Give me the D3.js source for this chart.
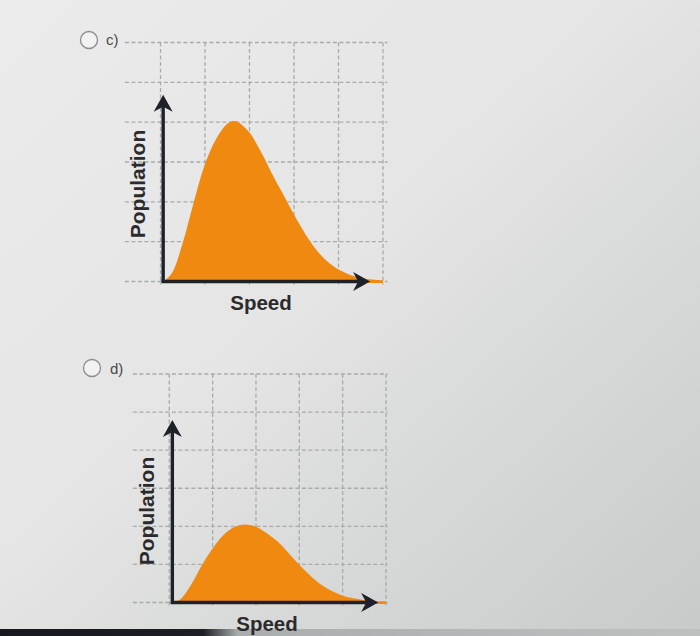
<!DOCTYPE html>
<html lang="en">
<head>
<meta charset="utf-8">
<title>Speed distributions</title>
<script src="https://d3js.org/d3.v7.min.js"></script>
<style>
  body { margin: 0; background: #e4e5e4; }
  .grid { stroke: #a9abab; stroke-width: 1.3px; stroke-dasharray: 4 2.5; fill: none; }
  .axis-line { stroke: #1f2129; stroke-width: 3.4px; fill: none; }
  .arrow { fill: #1f2129; }
  .curve { fill: #ef890f; stroke: none; }
  .label { font-family: "Liberation Sans", Arial, sans-serif; font-weight: bold; fill: #2b2b2d; }
  .option { font-family: "Liberation Sans", Arial, sans-serif; fill: #4a4a4a; font-size: 15px; }
</style>
</head>
<body>
<svg width="700" height="636"></svg>
<script>
// option labels
var options = ["c)", "d)"];
var xTitle = "Speed";
var yTitle = "Population";

// grid positions, in grid units
var gridX = [0, 1, 2, 3, 4, 5];
var gridY = [0, 1, 2, 3, 4, 5, 6];

// option c) curve (grid units)
var speedC      = [0.06, 0.25, 0.5, 0.75, 1, 1.25, 1.5, 1.64, 1.75, 2, 2.25, 2.5, 2.75, 3, 3.25, 3.5, 3.75, 4, 4.25, 4.5, 4.75, 5];
var populationC = [0, 0.2, 0.97, 2.0, 2.95, 3.58, 3.96, 4.03, 4.0, 3.74, 3.27, 2.72, 2.2, 1.68, 1.2, 0.8, 0.5, 0.3, 0.17, 0.09, 0.05, 0.03];

// option d) curve
var speedD      = [0.07, 0.25, 0.5, 0.75, 1, 1.25, 1.5, 1.74, 2, 2.25, 2.5, 2.75, 3, 3.25, 3.5, 3.75, 4, 4.25, 4.5, 4.75, 5];
var populationD = [0, 0.08, 0.46, 0.98, 1.42, 1.77, 1.98, 2.05, 1.99, 1.82, 1.6, 1.3, 0.99, 0.71, 0.47, 0.3, 0.18, 0.11, 0.06, 0.03, 0.03];

var svg = d3.select("svg");

// photo-like background
var defs = svg.append("defs");
var bg = defs.append("linearGradient").attr("id", "bg")
    .attr("x1", "0%").attr("y1", "0%").attr("x2", "100%").attr("y2", "100%");
bg.append("stop").attr("offset", "0%").attr("stop-color", "#ebebeb");
bg.append("stop").attr("offset", "45%").attr("stop-color", "#e4e5e4");
bg.append("stop").attr("offset", "100%").attr("stop-color", "#c6cac8");
svg.append("rect").attr("width", 700).attr("height", 636).attr("fill", "url(#bg)");

var band = defs.append("linearGradient").attr("id", "band");
band.append("stop").attr("offset", "0%").attr("stop-color", "#16181d");
band.append("stop").attr("offset", "29%").attr("stop-color", "#1c1e24");
band.append("stop").attr("offset", "34%").attr("stop-color", "#a9adad");
band.append("stop").attr("offset", "100%").attr("stop-color", "#bcc0bf");

// screen bezel edge at the bottom of the photo
svg.append("rect").attr("x", 0).attr("y", 629).attr("width", 700).attr("height", 7)
    .attr("fill", "url(#band)");

var panels = [
  { name: options[0], speed: speedC, pop: populationC,
    x0: 160.5, x1: 383, y0: 281.5, y1: 42.5, axisAt: 0.06, yTip: 4.69, xTip: 4.71,
    gridLeft: -0.8, gridRight: 5.1,
    radio: [89, 40], optX: 106, optY: 45, popX: 145, popY: 184, spX: 261, spY: 310 },
  { name: options[1], speed: speedD, pop: populationD,
    x0: 169.3, x1: 386, y0: 602.5, y1: 374, axisAt: 0.07, yTip: 4.79, xTip: 4.82,
    gridLeft: -0.84, gridRight: 5.04,
    radio: [92, 368], optX: 110, optY: 374, popX: 154, popY: 511, spX: 267, spY: 631 }
];

panels.forEach(function(p) {
  var x = d3.scaleLinear().domain([0, 5]).range([p.x0, p.x1]);
  var y = d3.scaleLinear().domain([0, 6]).range([p.y0, p.y1]);
  var g = svg.append("g");

  // option radio + label
  g.append("circle").attr("cx", p.radio[0]).attr("cy", p.radio[1]).attr("r", 8.5)
      .attr("fill", "#f2f2f2").attr("stroke", "#8c8c8c").attr("stroke-width", 1.3);
  g.append("text").attr("class", "option").attr("x", p.optX).attr("y", p.optY).text(p.name);

  // dashed grid
  g.selectAll(".hgrid").data(gridY).join("line")
      .attr("class", "grid hgrid")
      .attr("x1", x(p.gridLeft)).attr("x2", x(p.gridRight))
      .attr("y1", d => y(d)).attr("y2", d => y(d));
  g.selectAll(".vgrid").data(gridX).join("line")
      .attr("class", "grid vgrid")
      .attr("x1", d => x(d)).attr("x2", d => x(d))
      .attr("y1", y(6)).attr("y2", y(0) + 3);

  // distribution
  var pts = p.speed.map((s, i) => [s, p.pop[i]]);
  var area = d3.area()
      .x(d => x(d[0]))
      .y0(y(0) + 1.5)
      .y1(d => y(d[1]))
      .curve(d3.curveCatmullRom.alpha(0.5));
  g.append("path").datum(pts).attr("class", "curve").attr("d", area);

  // axes with arrow heads
  var ax = x(p.axisAt), ay = y(0);
  g.append("line").attr("class", "axis-line")
      .attr("x1", ax).attr("x2", ax).attr("y1", ay + 1.5).attr("y2", y(p.yTip) + 10);
  g.append("line").attr("class", "axis-line")
      .attr("x1", ax - 1.5).attr("x2", x(p.xTip) - 10).attr("y1", ay).attr("y2", ay);

  var head = "M0,0 L-17,-9.5 L-12,0 L-17,9.5 Z";
  g.append("path").attr("class", "arrow").attr("d", head)
      .attr("transform", `translate(${ax},${y(p.yTip)}) rotate(-90)`);
  g.append("path").attr("class", "arrow").attr("d", head)
      .attr("transform", `translate(${x(p.xTip)},${ay})`);

  // titles
  g.append("text").attr("class", "label")
      .attr("transform", `translate(${p.popX},${p.popY}) rotate(-90)`)
      .attr("text-anchor", "middle").style("font-size", "21px").text(yTitle);
  g.append("text").attr("class", "label")
      .attr("x", p.spX).attr("y", p.spY)
      .attr("text-anchor", "middle").style("font-size", "20.5px").text(xTitle);
});
</script>
</body>
</html>
